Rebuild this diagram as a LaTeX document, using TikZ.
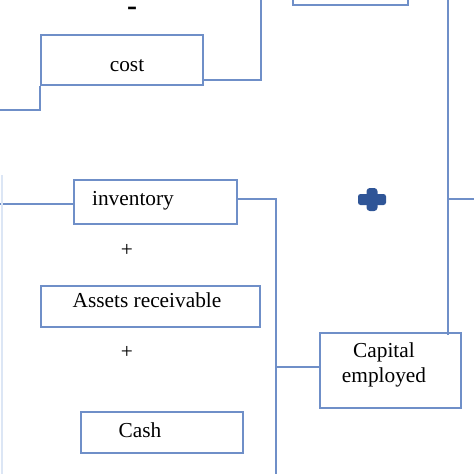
\documentclass[tikz,border=0pt]{standalone}
\usepackage{fontspec}
\setmainfont{Liberation Serif}
\usetikzlibrary{calc,fit}

\definecolor{linkblue}{RGB}{111,143,200}
\definecolor{signblue}{RGB}{47,85,151}
\definecolor{edgeblue}{RGB}{220,230,245}

\tikzset{
    box/.style={draw=linkblue, line width=0.95pt, inner sep=0pt, rectangle},
    link/.style={draw=linkblue, line width=0.95pt},
    word/.style={font=\fontsize{12.8}{15}\selectfont, inner sep=0pt, align=center},
    minussign/.style={font=\bfseries\fontsize{18}{18}\selectfont, inner sep=0pt}
}

\begin{document}
\begin{tikzpicture}[x=0.6pt, y=-0.6pt]
            \useasboundingbox (0,0) rectangle (474,474);
            \clip (0,0) rectangle (474,474);

            % boxes
            \node (topbox) [box, fit={(293,-40) (408,5)}] {};
            \node (costbox) [box, fit={(41,35) (203,85)}] {};
            \node (invbox) [box, fit={(74,180) (237,224)}] {};
            \node (arbox) [box, fit={(41,286) (260,327)}] {};
            \node (cashbox) [box, fit={(81,412) (243,453)}] {};
            \node (capbox) [box, fit={(320,333) (461,408)}] {};

            % texts
            \node (minus) at (132,11) [minussign] {-};
            \node (cost) at (127,66) [word] {cost};
            \node (inv) at (133,201) [word] {inventory};
            \node (plusA) at (127,250) [word] {+};
            \node (ar) at (147,300) [word] {Assets receivable};
            \node (plusB) at (127,352) [word] {+};
            \node (cash) at (140,430) [word] {Cash};
            \node (cap) at (384,365) [word] {Capital\\employed};

            % free ends
            \coordinate (costtop) at (261,0);
            \coordinate (costleft) at (0,110);
            \coordinate (righttop) at (448,0);
            \coordinate (rightout) at (474,199);
            \coordinate (invleft) at (0,204);
            \coordinate (busbot) at (276,474);

            % connectors
            \draw [link] ($(costbox.south east) + (0,-6)$) -| (costtop);
            \draw [link] (costbox.south west) |- (costleft);
            \draw [link] (righttop) -- ($(capbox.north -| righttop) + (0,3)$);
            \draw [link] (righttop |- rightout) -- (rightout);
            \draw [link] (invleft) -- (invleft -| invbox.west);
            \draw [link] ($(invbox.north east) + (0,19.5)$) -| (busbot);
            \draw [link] ($(capbox.west) + (0,-3.5)$) -- (busbot |- {$(capbox.west) + (0,-3.5)$});

            % divide sign
            \fill [signblue, rounded corners=1.5pt] (358,194) rectangle (386,205);
            \fill [signblue, rounded corners=2pt] (366.5,188) rectangle (377.5,211);

            % faint edge on the left
            \draw [edgeblue, line width=1pt] (2,175) -- (2,474);

        \end{tikzpicture}
\end{document}
